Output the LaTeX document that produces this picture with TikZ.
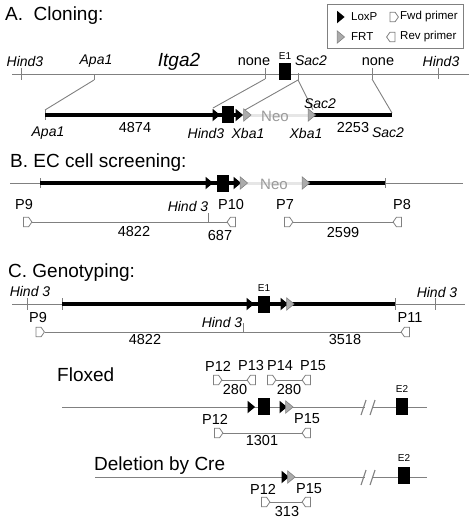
\documentclass[tikz,border=0pt]{standalone}
\usepackage{fontspec}
\setmainfont{Liberation Sans}
\usetikzlibrary{shapes.geometric,shapes.symbols}
\definecolor{lngray}{HTML}{808080}
\definecolor{neogray}{HTML}{E6E6E6}
\definecolor{neotxt}{HTML}{9A9A9A}
\definecolor{frtfill}{HTML}{ABABAB}

\begin{document}
\begin{tikzpicture}[x=1pt,y=-1pt]
\tikzset{
 ln/.style={draw=lngray,line width=0.9pt},
 thk/.style={line width=3.6pt},
 neo/.style={draw=neogray,line width=3pt},
 ttl/.style={font=\fontsize{19}{21}\selectfont,anchor=west,inner sep=0},
 lbl/.style={font=\fontsize{14.5}{16}\selectfont,inner sep=0},
 lgd/.style={font=\fontsize{11.5}{13}\selectfont,anchor=west,inner sep=0},
 it/.style={font=\fontsize{14}{16}\selectfont\itshape,inner sep=0},
 sml/.style={font=\fontsize{10}{11}\selectfont,inner sep=0},
 exon/.style={fill=black,minimum width=12pt,minimum height=17pt,inner sep=0},
 loxp/.style={isosceles triangle,isosceles triangle stretches,fill=black,minimum width=12.5pt,minimum height=7.5pt,inner sep=0},
 frt/.style={loxp,fill=frtfill,draw=lngray,line width=0.6pt},
 fwd/.style={signal,signal to=east,signal pointer angle=110,draw=lngray,fill=white,minimum width=8.5pt,minimum height=9.5pt,inner sep=0,line width=0.8pt},
 rev/.style={fwd,signal to=west}
}
\useasboundingbox (0,0) rectangle (474,522);

% A. Cloning
\node[ttl] (tA) at (5,16) {A.\ \ Cloning:};
\draw[ln] (327,4) rectangle (463,48);
\node[loxp] (lgloxp) at (340,17) {};
\node[lgd] (lgloxptx) at (351,17) {LoxP};
\node[fwd] (lgfwd) at (392.5,17) {};
\node[lgd] (lgfwdtx) at (400,17) {Fwd primer};
\node[frt] (lgfrt) at (340,37) {};
\node[lgd] (lgfrttx) at (351,37) {FRT};
\node[rev] (lgrev) at (392.5,37) {};
\node[lgd] (lgrevtx) at (400,37) {Rev primer};

\draw[ln] (12,74) -- (469,74);
\draw[ln] (21,68) -- (21,80);
\draw[ln] (94,74) -- (94,80) coordinate (apa);
\draw[ln] (265,68) -- (265,79) coordinate (none1);
\draw[ln] (298,73) -- (298,80) coordinate (sac);
\draw[ln] (372,68) -- (372,79) coordinate (none2);
\draw[ln] (438,68) -- (438,79);
\node[exon] (e1a) at (285,71.5) {};
\node[sml] (e1atx) at (285,56) {E1};
\node[it] (h3a) at (25,61) {Hind3};
\node[it] (apaa) at (96,61) {Apa1};
\node[font=\fontsize{19}{21}\selectfont\itshape,inner sep=0] (itga) at (179,62) {Itga2};
\node[lbl] (nonea) at (254,62) {none};
\node[it] (saca) at (311,61) {Sac2};
\node[lbl] (noneb) at (378,62) {none};
\node[it] (h3b) at (441,61) {Hind3};

\coordinate (c1) at (45,110);
\coordinate (c2) at (213,108);
\coordinate (c3) at (245,110);
\coordinate (c4) at (313,110);
\coordinate (c5) at (392,113);
\draw[ln] (apa) -- (c1);
\draw[ln] (none1) -- (c2);
\draw[ln] (sac) -- (c3);
\draw[ln] (sac) -- (c4);
\draw[ln] (none2) -- (c5);
\draw[ln] (45,110) -- (45,120);
\draw[thk] (45,115) -- (236,115);
\draw[neo] (248,115) -- (310,115);
\draw[thk] (313,115) -- (392,115);
\node[loxp] (la1) at (215.5,115) {};
\node[exon] (ea1) at (228,114.5) {};
\node[loxp] (la2) at (238.5,115) {};
\node[frt] (fa1) at (246.5,115) {};
\node[frt] (fa2) at (311,115) {};
\node[font=\fontsize{15}{17}\selectfont,text=neotxt,inner sep=0] (neoa) at (275,116) {Neo};
\node[it] (apab) at (48,133) {Apa1};
\node[lbl] (n4874) at (135,128) {4874};
\node[it] (h3c) at (206,133) {Hind3};
\node[it] (xbaa) at (248,133) {Xba1};
\node[it] (sacb) at (320,104) {Sac2};
\node[it] (xbab) at (306,133) {Xba1};
\node[lbl] (n2253) at (353,128) {2253};
\node[it] (sacc) at (388,133) {Sac2};

% B. EC cell screening
\node[ttl] (tB) at (10,163) {B. EC cell screening:};
\draw[ln] (10,183) -- (463,183);
\draw[ln] (40,178) -- (40,188);
\draw[ln] (385,178) -- (385,188);
\draw[thk] (40,183) -- (236,183);
\draw[neo] (246,183) -- (304,183);
\draw[thk] (307,183) -- (385,183);
\node[loxp] (lb1) at (208.5,183) {};
\node[exon] (eb1) at (223,183) {};
\node[loxp] (lb2) at (236.5,183) {};
\node[frt] (fb1) at (243,183) {};
\node[frt] (fb2) at (305,183) {};
\node[font=\fontsize{15}{17}\selectfont,text=neotxt,inner sep=0] (neob) at (274,184) {Neo};

\node[fwd] (p9b) at (26,222) {};
\node[rev] (p10b) at (233,222) {};
\node[fwd] (p7b) at (287,222) {};
\node[rev] (p8b) at (399,222) {};
\draw[ln] (p9b) -- (p10b);
\draw[ln] (p7b) -- (p8b);
\draw[ln] (208,213) -- (208,222);
\node[lbl] (p9btx) at (24,205) {P9};
\node[it] (h3d) at (188,206) {Hind 3};
\node[lbl] (p10btx) at (231,205) {P10};
\node[lbl] (p7btx) at (285,205) {P7};
\node[lbl] (p8btx) at (402,205) {P8};
\node[lbl] (n4822b) at (134,232) {4822};
\node[lbl] (n687) at (220,236) {687};
\node[lbl] (n2599) at (343,233) {2599};

% C. Genotyping
\node[ttl] (tC) at (8,273) {C. Genotyping:};
\draw[ln] (12,304) -- (465,304);
\draw[ln] (27,298) -- (27,310);
\draw[ln] (435,298) -- (435,310);
\draw[ln] (62,298) -- (62,310);
\draw[ln] (395,298) -- (395,310);
\draw[thk] (62,304) -- (395,304);
\node[loxp] (lc1) at (249.5,304) {};
\node[exon] (ec1) at (264,304) {};
\node[loxp] (lc2) at (283.5,304) {};
\node[frt] (fc1) at (289.5,304) {};
\node[sml] (e1ctx) at (264,288) {E1};
\node[it] (h3e) at (30,291) {Hind 3};
\node[it] (h3f) at (437,292) {Hind 3};

\node[fwd] (p9c) at (38.5,332) {};
\node[rev] (p11c) at (407,332) {};
\draw[ln] (p9c) -- (p11c);
\draw[ln] (243,323) -- (243,332);
\node[lbl] (p9ctx) at (38,318) {P9};
\node[it] (h3g) at (222,322) {Hind 3};
\node[lbl] (p11ctx) at (410,318) {P11};
\node[lbl] (n4822c) at (145,340) {4822};
\node[lbl] (n3518) at (345,340) {3518};

% Floxed
\node[ttl] (tF) at (57,375) {Floxed};
\node[fwd] (p12f) at (216,380) {};
\node[rev] (p13f) at (253,380) {};
\node[fwd] (p14f) at (270,380) {};
\node[rev] (p15f) at (308,380) {};
\draw[ln] (p12f) -- (p13f);
\draw[ln] (p14f) -- (p15f);
\node[lbl] (p12ftx) at (218,366) {P12};
\node[lbl] (p13ftx) at (251,366) {P13};
\node[lbl] (p14ftx) at (280,366) {P14};
\node[lbl] (p15ftx) at (313,366) {P15};
\node[lbl] (n280a) at (235,390) {280};
\node[lbl] (n280b) at (289,390) {280};

\draw[ln] (62,407) -- (365,407);
\draw[ln] (372,407) -- (427,407);
\draw[ln,line width=1.1pt] (361,415) -- (366,400);
\draw[ln,line width=1.1pt] (370,415) -- (375,400);
\node[loxp] (lf1) at (250.5,407) {};
\node[exon] (ef1) at (264,406) {};
\node[loxp] (lf2) at (282.5,407) {};
\node[frt] (ff1) at (288.5,407) {};
\node[exon] (ef2) at (402,406.5) {};
\node[sml] (e2ftx) at (402,389) {E2};

\node[fwd] (p12g) at (217,433) {};
\node[rev] (p15g) at (308,433) {};
\draw[ln] (p12g) -- (p15g);
\node[lbl] (p12gtx) at (215,419) {P12};
\node[lbl] (p15gtx) at (307,419) {P15};
\node[lbl] (n1301) at (262,441) {1301};

% Deletion by Cre
\node[ttl] (tD) at (94,466) {Deletion by Cre};
\draw[ln] (95,477) -- (365,477);
\draw[ln] (372,477) -- (427,477);
\draw[ln,line width=1.1pt] (361,485) -- (366,470);
\draw[ln,line width=1.1pt] (370,485) -- (375,470);
\node[loxp] (ld1) at (284.5,477) {};
\node[frt] (fd1) at (290.5,477) {};
\node[exon] (ed2) at (403.5,475.5) {};
\node[sml] (e2dtx) at (404,458) {E2};

\node[fwd] (p12d) at (264,502) {};
\node[rev] (p15d) at (308,502) {};
\draw[ln] (p12d) -- (p15d);
\node[lbl] (p12dtx) at (263,489) {P12};
\node[lbl] (p15dtx) at (309,489) {P15};
\node[lbl] (n313) at (287,512) {313};
\end{tikzpicture}
\end{document}
